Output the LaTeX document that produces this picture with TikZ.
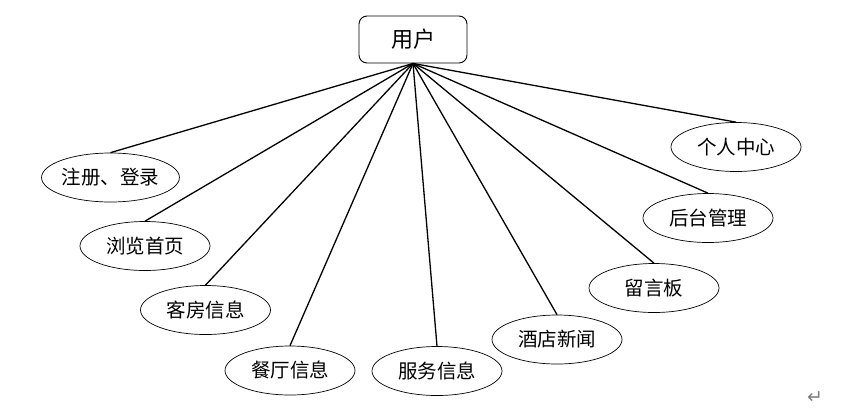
\documentclass[tikz,border=0pt]{standalone}
\usepackage{fontspec}
\setmainfont{Noto Sans CJK SC}
\newfontfamily\symfont{DejaVu Sans}
\usetikzlibrary{shapes.geometric}
\begin{document}
\begin{tikzpicture}[x=1pt,y=-1pt,
    rootbox/.style={draw,line width=0.9pt,rounded corners=8pt,minimum width=108pt,minimum height=47pt,inner sep=0pt,font=\fontsize{22}{26}\selectfont},
    usecase/.style={draw,ellipse,line width=0.7pt,minimum width=130pt,minimum height=49pt,inner sep=0pt,font=\fontsize{19.5}{23}\selectfont},
    link/.style={line width=1.3pt}]
    \useasboundingbox (0,0) rectangle (846,416);

    \node[rootbox] (user) at (413,39.5) {用户};

    \node[usecase] (reg) at (110.5,177.5) {注册、登录};
    \node[usecase] (browse) at (145,246) {浏览首页};
    \node[usecase] (room) at (205.5,310) {客房信息};
    \node[usecase] (food) at (290,370.5) {餐厅信息};
    \node[usecase] (service) at (437,371) {服务信息};
    \node[usecase] (news) at (557,339.5) {酒店新闻};
    \node[usecase] (msg) at (654,288) {留言板};
    \node[usecase] (admin) at (708,218) {后台管理};
    \node[usecase] (center) at (736,147) {个人中心};

    \foreach \n in {reg,browse,room,food,service,news,msg,admin,center}
        \draw[link] (user.south) -- (\n.north);

    \node[text=gray,font=\symfont\fontsize{19}{22}\selectfont] (mark) at (815,398) {↵};
\end{tikzpicture}
\end{document}
